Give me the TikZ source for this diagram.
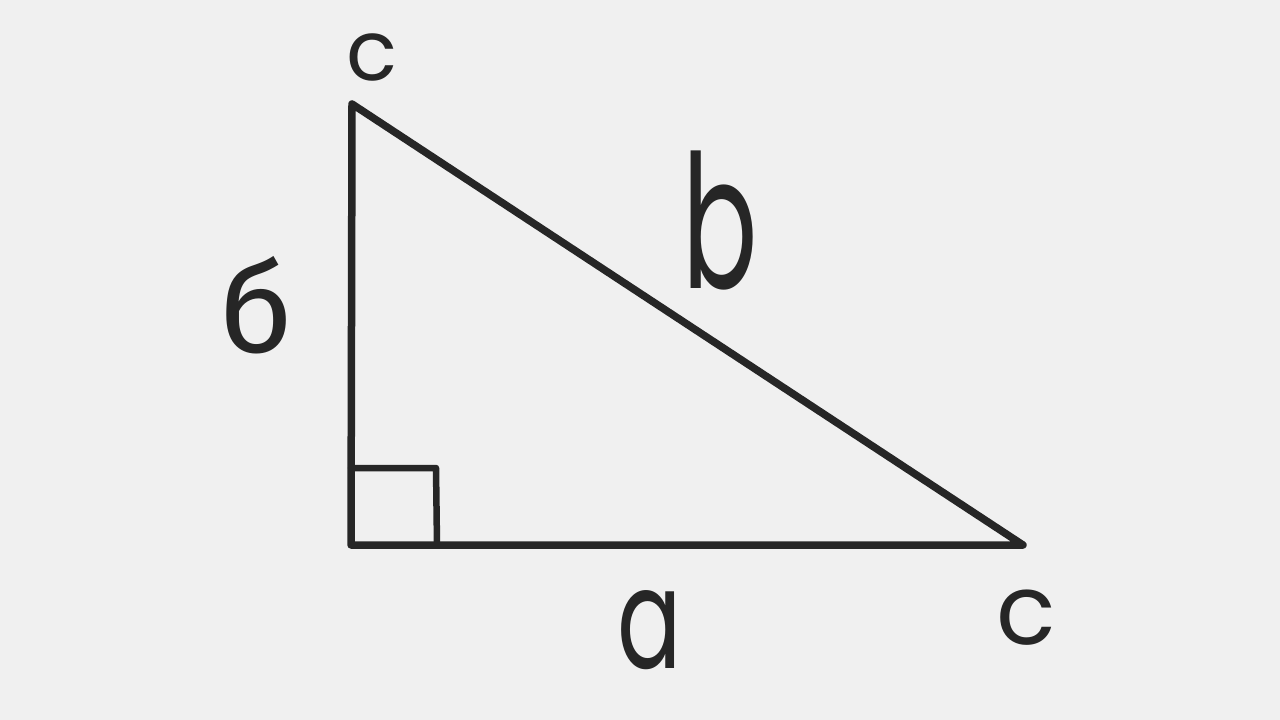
\documentclass[tikz,border=0pt]{standalone}
\usepackage{graphicx}
\usepackage{fontspec}
\setmainfont{Poppins}
\newfontfamily\cyrfont{Fira Sans}
\definecolor{bg}{HTML}{F0F0F0}
\definecolor{ink}{HTML}{262626}
\begin{document}
\begin{tikzpicture}[x=1pt,y=-1pt,
  edge/.style={draw=ink,line width=7.5pt,line join=round,line cap=round},
  lbl/.style={text=ink,inner sep=0pt,anchor=center}]
\fill[bg] (0,0) rectangle (1280,720);
\useasboundingbox (0,0) rectangle (1280,720);
\coordinate (A) at (352,104);
\coordinate (C) at (351,545);
\coordinate (B) at (1023,545);
\draw[edge] (A) -- (C) -- (B) -- cycle;
\coordinate (s1) at (351,468);
\coordinate (s2) at (436,468);
\coordinate (s3) at (437,545);
\draw[edge,line width=6.5pt] (s1) -- (s2) -- (s3);
\node[lbl] (ltop) at (372,57) {\fontsize{84}{84}\selectfont c};
\node[lbl] (lleft) at (257,305) {\cyrfont\fontsize{128}{128}\selectfont б};
\node[lbl] (lhyp) at (720,221) {\scalebox{0.6}[1]{\fontsize{186}{186}\selectfont b}};
\node[lbl] (lbot) at (650,630) {\scalebox{0.68}[1]{\fontsize{140}{140}\selectfont a}};
\node[lbl] (lright) at (1026,618) {\fontsize{98}{98}\selectfont c};
\end{tikzpicture}
\end{document}
